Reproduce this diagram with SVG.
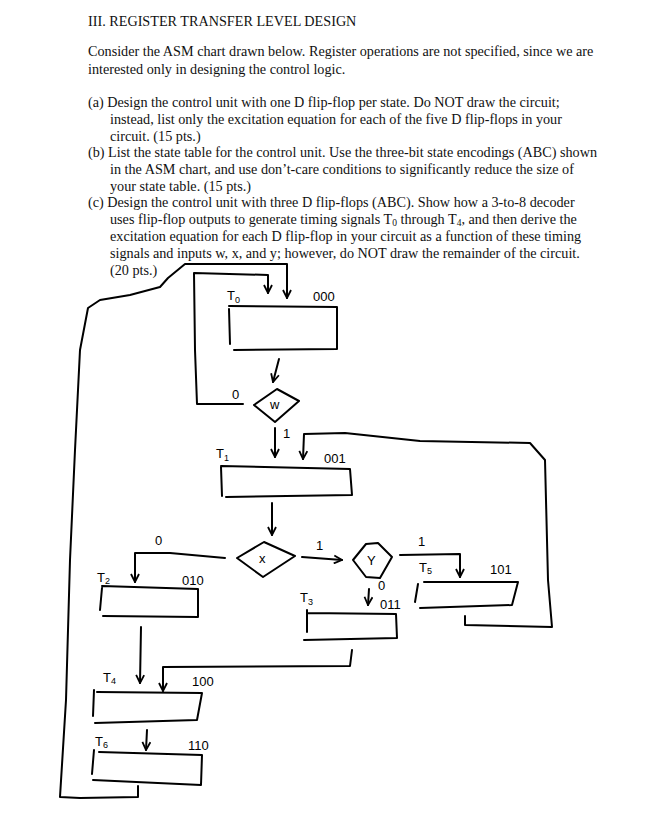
<svg xmlns="http://www.w3.org/2000/svg" width="672" height="825" viewBox="0 0 672 825">
<style>
.t{font-family:"Liberation Serif","Times New Roman",serif;font-size:14.2px;fill:#111}
.h{font-family:"Liberation Sans",sans-serif;font-size:13px;fill:#000}
.s{fill:none;stroke:#000;stroke-width:2;stroke-linejoin:round;stroke-linecap:round}
</style>
<defs><marker id="a" viewBox="0 0 10 10" refX="9" refY="5" markerWidth="10" markerHeight="10" orient="auto-start-reverse" markerUnits="userSpaceOnUse"><path d="M1,1 L9,5 L1,9" fill="none" stroke="#000" stroke-width="1.8"/></marker></defs>
<rect width="672" height="825" fill="#fff"/>
<g id="text">
<text class="t" x="88" y="26">III. REGISTER TRANSFER LEVEL DESIGN</text>
<text class="t" x="88" y="56">Consider the ASM chart drawn below. Register operations are not specified, since we are</text>
<text class="t" x="88" y="74">interested only in designing the control logic.</text>
<text class="t" x="88" y="107">(a) Design the control unit with one D flip-flop per state. Do NOT draw the circuit;</text>
<text class="t" x="110" y="124">instead, list only the excitation equation for each of the five D flip-flops in your</text>
<text class="t" x="110" y="141">circuit. (15 pts.)</text>
<text class="t" x="88" y="157">(b) List the state table for the control unit. Use the three-bit state encodings (ABC) shown</text>
<text class="t" x="110" y="174">in the ASM chart, and use don’t-care conditions to significantly reduce the size of</text>
<text class="t" x="110" y="191">your state table. (15 pts.)</text>
<text class="t" x="88" y="207">(c) Design the control unit with three D flip-flops (ABC). Show how a 3-to-8 decoder</text>
<text class="t" x="110" y="224">uses flip-flop outputs to generate timing signals T<tspan font-size="9.5" dy="2">0</tspan><tspan dy="-2"> through T</tspan><tspan font-size="9.5" dy="2">4</tspan><tspan dy="-2">, and then derive the</tspan></text>
<text class="t" x="110" y="241">excitation equation for each D flip-flop in your circuit as a function of these timing</text>
<text class="t" x="110" y="258">signals and inputs w, x, and y; however, do NOT draw the remainder of the circuit.</text>
<text class="t" x="110" y="275">(20 pts.)</text>
</g>
<g id="T0"><path class="s" d="M229,306 L337,307 L337,349 L234,350 M229,309 L230,344"/><text class="h" x="227" y="300">T<tspan font-size="9" dy="3">0</tspan></text><text class="h" x="313" y="301">000</text></g>
<g id="w"><path class="s" d="M254,405 L277,389 L299,401 L275,422 Z"/><text class="h" x="270" y="409">w</text></g>
<g id="T1"><path class="s" d="M221,466 L350,469 L352,495 L226,497 M221,467 L222,496"/><text class="h" x="216" y="458">T<tspan font-size="9" dy="3">1</tspan></text><text class="h" x="324" y="463">001</text></g>
<g id="x"><path class="s" d="M237,558 L264,542 L295,556 L263,577 Z"/><text class="h" x="259" y="563">x</text></g>
<g id="y"><path class="s" d="M353,560 L366,544 L378,543 L392,557 L380,578 L366,577 Z"/><text class="h" x="367" y="565">Y</text></g>
<g id="T2"><path class="s" d="M102,586 L198,589 L198,617 L103,616 M102,588 L100,610"/><text class="h" x="97" y="582">T<tspan font-size="9" dy="2">2</tspan></text><text class="h" x="182" y="585" font-size="11">010</text></g>
<g id="T3"><path class="s" d="M307,613 L396,614 L397,638 L304,640 M307,610 L307,632"/><text class="h" x="300" y="602">T<tspan font-size="9" dy="3">3</tspan></text><text class="h" x="380" y="609" font-size="10">011</text></g>
<g id="T5"><path class="s" d="M424,582 L518,582 L512,605 L420,608 M418,584 L415,602"/><text class="h" x="419" y="572">T<tspan font-size="9" dy="2">5</tspan></text><text class="h" x="490" y="574" font-size="10">101</text></g>
<g id="T4"><path class="s" d="M97,692 L202,693 L197,720 L95,723 M94,690 L93,716"/><text class="h" x="103" y="682">T<tspan font-size="9" dy="2">4</tspan></text><text class="h" x="192" y="686" font-size="10">100</text></g>
<g id="T6"><path class="s" d="M99,752 L202,755 L201,785 L93,780 M94,750 L92,774"/><text class="h" x="95" y="746">T<tspan font-size="9" dy="2">6</tspan></text><text class="h" x="188" y="750" font-size="11">110</text></g>
<g id="connectors">
<path class="s" marker-end="url(#a)" d="M138,786 L138,797 L80,798 L60,797 L66,700 L70,560 L75,450 L80,350 L88,308 L100,300 L130,295 L160,287 L168,278 L185,264 L287,264 L287,298"/>
<path class="s" marker-end="url(#a)" d="M243,404 L197,404 L195,350 L194,273 L268,275 L268,293"/>
<path class="s" marker-end="url(#a)" d="M279,359 L273,382"/>
<path class="s" marker-end="url(#a)" d="M275,428 L275,457"/>
<path class="s" marker-end="url(#a)" d="M465,616 L465,625 L552,627 L548,580 L545,460 L530,443 L420,441 L345,433 L304,434 L303,459"/>
<path class="s" marker-end="url(#a)" d="M272,503 L272,535"/>
<path class="s" marker-end="url(#a)" d="M225,558 L170,553 L135,553 L135,582"/>
<path class="s" marker-end="url(#a)" d="M302,557 L342,560"/>
<path class="s" marker-end="url(#a)" d="M400,555 L460,554 L460,577"/>
<path class="s" marker-end="url(#a)" d="M369,589 L368,605"/>
<path class="s" marker-end="url(#a)" d="M141,627 L140,683"/>
<path class="s" marker-end="url(#a)" d="M352,650 L350,666 L163,667 L163,691"/>
<path class="s" marker-end="url(#a)" d="M147,730 L146,750"/>
<text class="h" x="232" y="399">0</text>
<text class="h" x="283" y="438" font-size="11">1</text>
<text class="h" x="155" y="545">0</text>
<text class="h" x="316" y="550" font-size="11">1</text>
<text class="h" x="378" y="590">0</text>
<text class="h" x="418" y="546" font-size="11">1</text>
</g>
</svg>
